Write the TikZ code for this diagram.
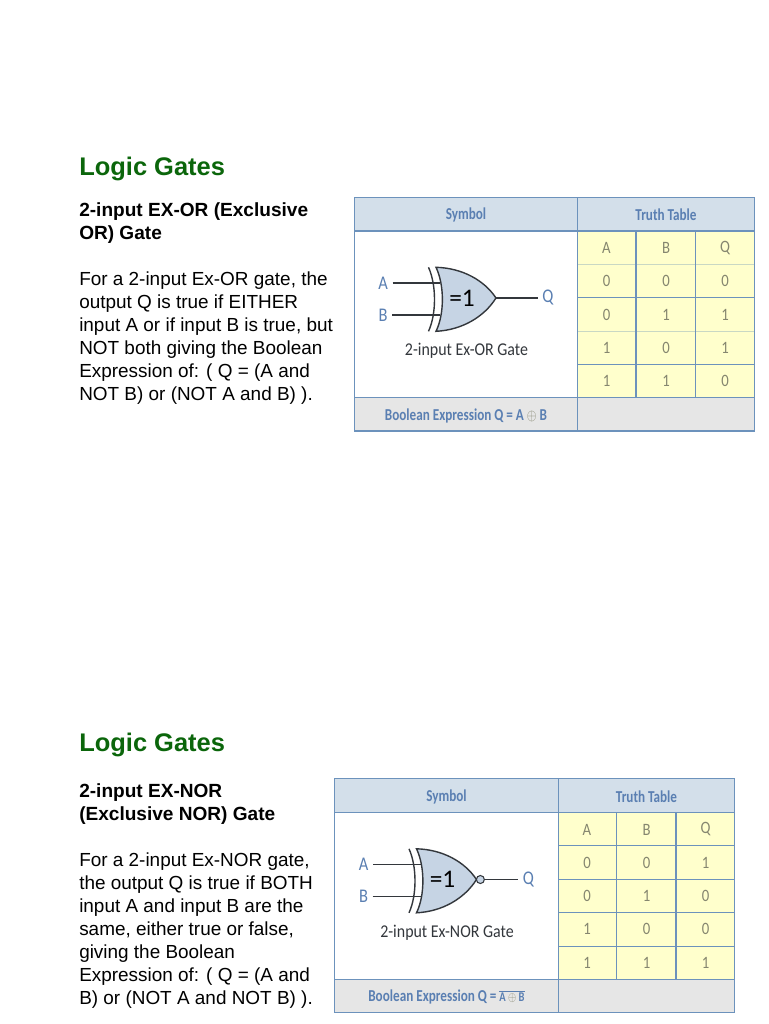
\documentclass[tikz,border=0pt]{standalone}
\usepackage{fontspec}
\setmainfont{Liberation Sans}
\newfontfamily\tablefont{Carlito}
\usetikzlibrary{positioning}
\definecolor{titlegreen}{HTML}{0B660B}
\definecolor{headfill}{HTML}{D3DFEA}
\definecolor{cellfill}{HTML}{FFFFCC}
\definecolor{footfill}{HTML}{E6E6E6}
\definecolor{gridblue}{HTML}{6C92BC}
\definecolor{gridpale}{HTML}{C9D8C4}
\definecolor{labelblue}{HTML}{5A7FB2}
\definecolor{digitgrey}{HTML}{85866F}
\definecolor{gatefill}{HTML}{C6D4E4}
\definecolor{wiredark}{HTML}{33373C}
\newcommand\gatepanel[6]{%
  \begin{scope}[shift={(#1)},name prefix=#2-]
    \fill[headfill](354,197)rectangle(754,231);
    \fill[footfill](354,397.5)rectangle(754,431);
    \fill[cellfill](577.5,231)rectangle(754,397.5);
    \node[headtext,name=symbol]at(466,215){Symbol};
    \node[headtext,name=truth]at(666,215){Truth Table};
    \node[foottext,name=expr]at(466,415.5){#5};
    % truth table
    \node[digit,name=cola]at(606.5,248){A};
    \node[digit,name=colb]at(666,248){B};
    \node[digit,name=colq]at(725,248){Q};
    \foreach \a/\b/\q [count=\i] in {#4}{
      \node[digit,name=a\i]at(606.5,{248+33.3*\i}){\a};
      \node[digit,name=b\i]at(666,{248+33.3*\i}){\b};
      \node[digit,name=q\i]at(725,{248+33.3*\i}){\q};
    }
    \foreach \y in {264,331}\draw[#6](577.5,\y)--(754,\y);
    \draw[grid](577.5,297.5)--(754,297.5);
    \draw[grid](577.5,364.5)--(754,364.5);
    \foreach \x in {636,695.5}\draw[grid,line width=0.8pt](\x,231)--(\x,397.5);
    \draw[grid](354,197)rectangle(754,431);
    \draw[grid](577.5,197)--(577.5,431);
    \draw[grid](354,397.5)--(754,397.5);
    \draw[grid,line width=1pt](354,231)--(754,231);
    % gate
    \node[pinlabel,name=A]at(383,283){A};
    \node[pinlabel,name=B]at(383,315){B};
    \node[pinlabel,name=Q]at(548,298){Q};
    \coordinate(ina)at(440,283);
    \coordinate(inb)at(440,315);
    \coordinate(tip)at(496,298);
    \draw[wire](A)--(ina);
    \draw[wire](B)--(inb);
    \draw[wire](428.5,267.3)..controls(436.5,285)and(436.5,314)..(428.5,331.3);
    \draw[wire,fill=gatefill](436,267.3)..controls(462,268)and(484,280)..(tip)
      ..controls(484,317)and(462,330)..(436,331.3)
      ..controls(444.5,314)and(444.5,285)..cycle;
    \node[gatetext,name=mark]at(462,298){=1};
    \node[captext,name=caption]at(466.5,351){#3};
  \end{scope}}
\begin{document}
\begin{tikzpicture}
  [x=0.75pt,y=-0.75pt,>=latex,
   title/.style={anchor=west,inner sep=0pt,text=titlegreen,font=\fontsize{19.1}{22}\selectfont\bfseries},
   heading/.style={anchor=north west,inner sep=0pt,align=left,font=\fontsize{14.3}{17.25}\selectfont\bfseries},
   para/.style={anchor=north west,inner sep=0pt,align=left,font=\fontsize{14.2}{17.25}\selectfont},
   headtext/.style={text=labelblue,transform shape,xscale=0.79,font=\tablefont\fontsize{12.5}{14}\selectfont\bfseries},
   foottext/.style={text=labelblue,transform shape,xscale=0.79,font=\tablefont\fontsize{12.5}{14}\selectfont\bfseries},
   digit/.style={text=digitgrey,transform shape,xscale=0.85,font=\tablefont\fontsize{13}{15}\selectfont},
   pinlabel/.style={text=labelblue,transform shape,xscale=0.85,inner sep=4pt,font=\tablefont\fontsize{14.5}{16}\selectfont},
   gatetext/.style={text=black,font=\tablefont\fontsize{19}{21}\selectfont},
   captext/.style={text=wiredark,transform shape,xscale=0.885,font=\tablefont\fontsize{13.5}{15}\selectfont},
   wire/.style={draw=wiredark,line width=1.05pt},
   grid/.style={draw=gridblue,line width=0.6pt},
   pale/.style={draw=gridpale,line width=0.6pt},
   bubble/.style={circle,draw=wiredark,line width=0.8pt,fill=gatefill,inner sep=0pt,minimum size=6pt}]
  \useasboundingbox(0,0)rectangle(768,1024);
  \fill[white](0,0)rectangle(768,1024);
  % first sheet
  \node[title,name=title1]at(79,169){Logic Gates};
  \node[heading,name=head1]at(79,202.5){2-input EX-OR (Exclusive\\OR) Gate};
  \node[para,name=text1]at(79,272){For a 2-input Ex-OR gate, the\\output Q is true if EITHER\\input A or if input B is true, but\\NOT both giving the Boolean\\Expression of: ( Q = (A and\\NOT B) or (NOT A and B) ).};
  \gatepanel{0,0}{exor}{2-input Ex-OR Gate}{0/0/0,0/1/1,1/0/1,1/1/0}
    {Boolean Expression Q = A {\color{digitgrey}$\oplus$} B}{pale}
  \draw[wire](exor-tip)--(exor-Q);
  \draw[grid,line width=1pt](354,431)--(754,431);
  % second sheet
  \node[title,name=title2]at(79,745){Logic Gates};
  \node[heading,name=head2]at(79,783.5){2-input EX-NOR\\(Exclusive NOR) Gate};
  \node[para,name=text2]at(79,853){For a 2-input Ex-NOR gate,\\the output Q is true if BOTH\\input A and input B are the\\same, either true or false,\\giving the Boolean\\Expression of: ( Q = (A and\\B) or (NOT A and NOT B) ).};
  \gatepanel{-19.5,581.5}{exnor}{2-input Ex-NOR Gate}{0/0/1,0/1/0,1/0/0,1/1/1}
    {Boolean Expression Q = $\overline{\mbox{\fontsize{10}{11}\selectfont A {\color{digitgrey}$\oplus$} B}}$}{grid}
  \node[bubble,name=exnor-inv,right=-0.5pt of exnor-tip]{};
  \draw[wire](exnor-inv)--(exnor-Q);
\end{tikzpicture}
\end{document}
